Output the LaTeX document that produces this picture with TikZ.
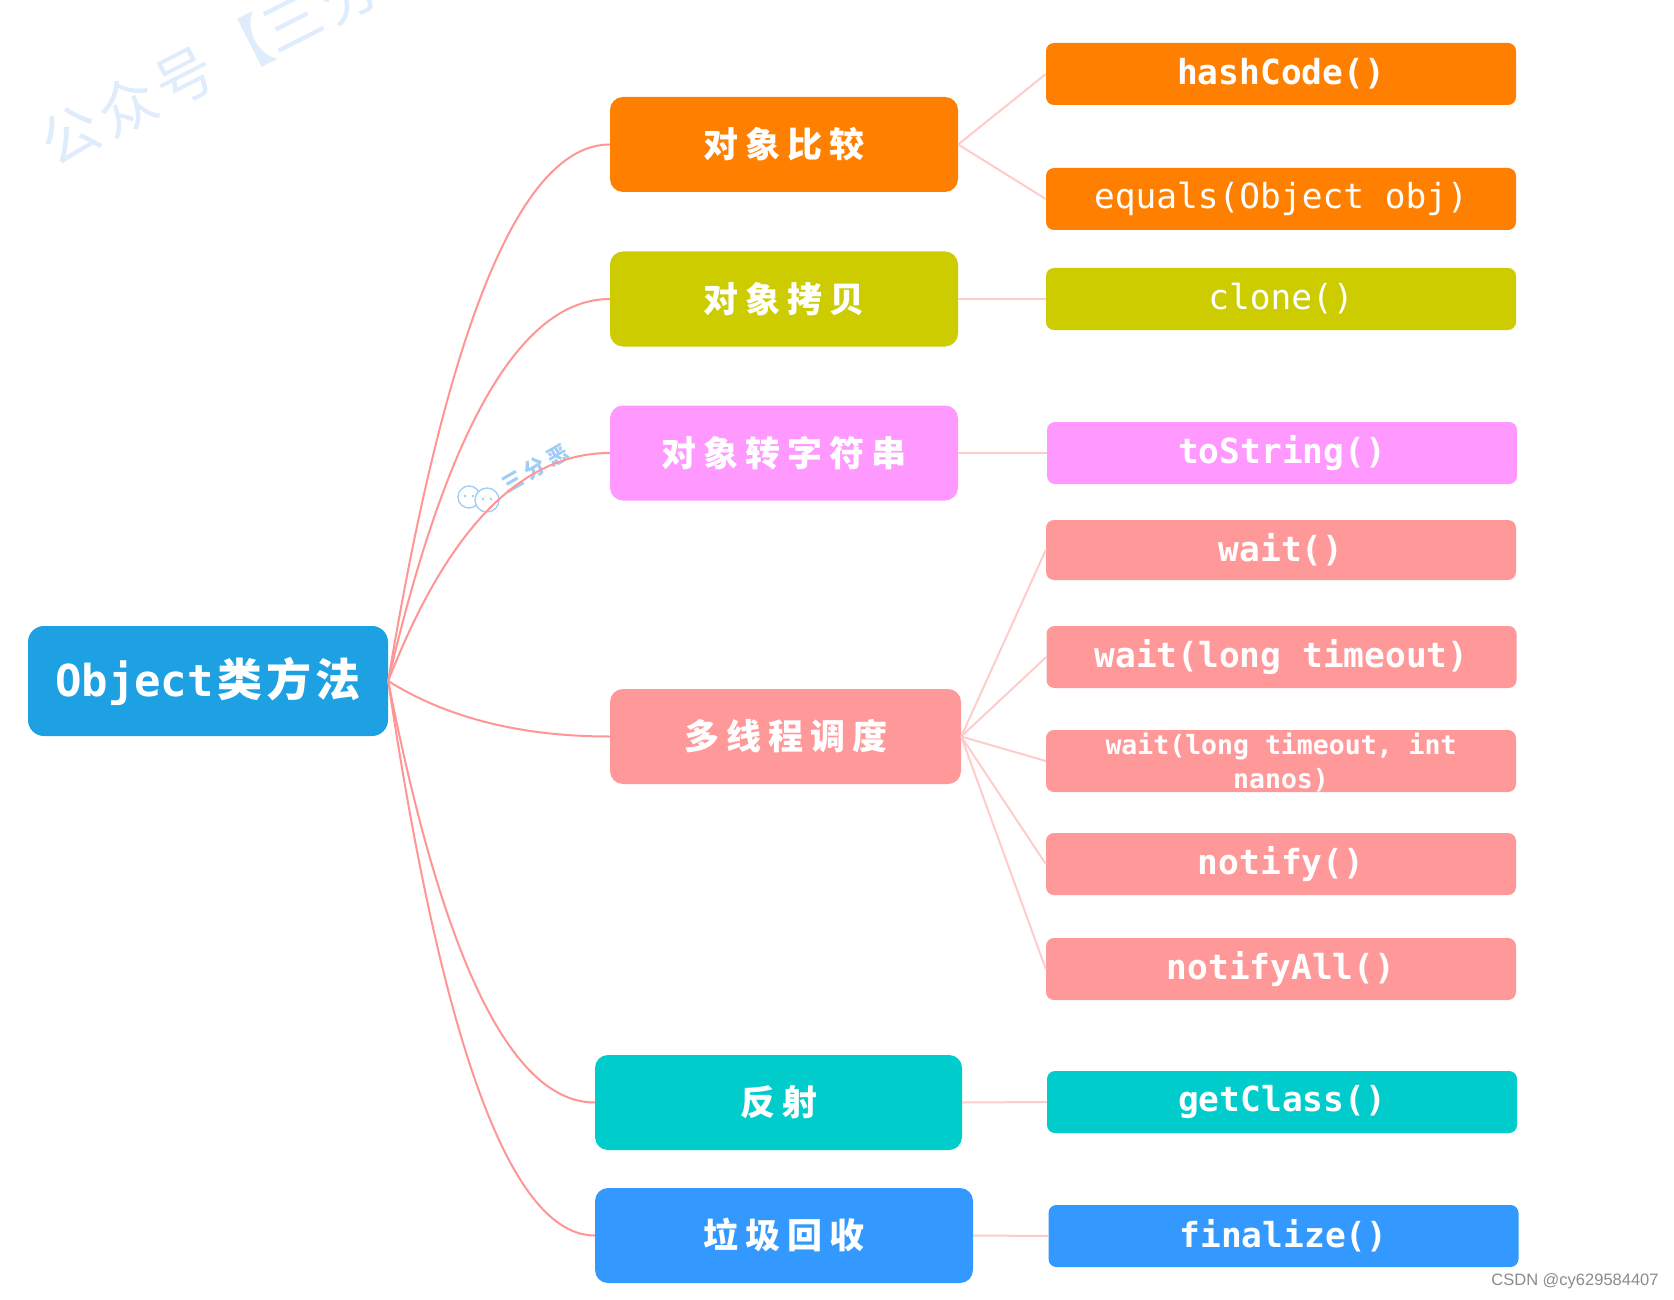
\documentclass[tikz,border=0pt]{standalone}
\usepackage{fontspec}
\usetikzlibrary{calc}
\newfontfamily\cjk{Noto Sans CJK SC}
\newfontfamily\mono{DejaVu Sans Mono}
\newfontfamily\csdnfont{Liberation Sans}
\definecolor{rootc}{RGB}{29,161,226}
\definecolor{orangec}{RGB}{255,128,0}
\definecolor{olivec}{RGB}{204,204,0}
\definecolor{pinkc}{RGB}{255,153,255}
\definecolor{salmonc}{RGB}{255,153,153}
\definecolor{tealc}{RGB}{0,204,204}
\definecolor{bluec}{RGB}{51,153,255}
\definecolor{linkone}{RGB}{255,150,150}
\definecolor{linktwo}{RGB}{255,204,204}
\definecolor{wmark}{RGB}{222,236,252}
\definecolor{wmarktwo}{RGB}{160,205,245}
\definecolor{csdngray}{RGB}{140,140,140}
\newcommand\gapA{\hspace{7pt}}
\newcommand\gapB{\hspace{4pt}}
\newcommand\gapC{\hspace{6pt}}
\tikzset{
  rootbox/.style={rounded corners=16pt, inner sep=0pt, text=white, fill=rootc,
    minimum width=360pt, minimum height=110pt},
  lonebox/.style={rounded corners=13pt, inner sep=0pt, text=white,
    minimum height=95pt, font=\cjk\bfseries\fontsize{35}{40}\selectfont},
  ltwobox/.style={rounded corners=8pt, inner sep=0pt, text=white,
    minimum width=470pt, minimum height=62pt, font=\mono\bfseries\fontsize{34.5}{40}\selectfont},
  thin/.style={font=\mono\fontsize{34.5}{40}\selectfont},
  lone/.style={draw=linkone, line width=2pt},
  ltwo/.style={draw=linktwo, line width=2pt},
}
\begin{document}
\begin{tikzpicture}[x=1pt,y=-1pt]
\useasboundingbox (0,0) rectangle (1674,1300);
\clip (0,0) rectangle (1674,1300);
\fill[white] (0,0) rectangle (1674,1300);

% watermarks
\node[text=wmark, rotate=27, anchor=west, inner sep=0pt,
  font=\cjk\fontsize{58}{58}\selectfont] (wm) at (44,148)
  {公\gapC 众\gapC 号\gapC 【三\gapC 分\gapC 恶】};
\node[text=wmarktwo, rotate=30, anchor=west, inner sep=0pt,
  font=\cjk\bfseries\fontsize{21}{21}\selectfont] (wm2) at (503,487)
  {三\hspace{5pt}分\hspace{5pt}恶};
\draw[wmarktwo, line width=1.3pt] (469,497) circle (11);
\draw[wmarktwo, line width=1.3pt, fill=white] (487,500) circle (12);
\fill[wmarktwo] (465,496) circle (1.3) (473,496) circle (1.3)
  (483,499) circle (1.3) (491,499) circle (1.3);

% root
\node[rootbox] (root) at (208,681)
  {\mono\bfseries\fontsize{44}{50}\selectfont Object\hspace{4pt}\cjk\fontsize{45}{50}\selectfont 类\gapB 方\gapB 法};

% level 1
\node[lonebox, fill=orangec, minimum width=348pt] (A) at (784,144.5) {对\gapA 象\gapA 比\gapA 较};
\node[lonebox, fill=olivec, minimum width=348pt] (B) at (784,299) {对\gapA 象\gapA 拷\gapA 贝};
\node[lonebox, fill=pinkc, minimum width=348pt] (C) at (784,453) {对\gapA 象\gapA 转\gapA 字\gapA 符\gapA 串};
\node[lonebox, fill=salmonc, minimum width=351pt] (D) at (785.5,736.5) {多\gapA 线\gapA 程\gapA 调\gapA 度};
\node[lonebox, fill=tealc, minimum width=367pt] (E) at (778.5,1102.5) {反\gapA 射};
\node[lonebox, fill=bluec, minimum width=378pt] (F) at (784,1235.5) {垃\gapA 圾\gapA 回\gapA 收};

% level 2
\node[ltwobox, fill=orangec] (h1) at (1281,74) {hashCode()};
\node[ltwobox, fill=orangec, thin] (h2) at (1281,199) {equals(Object obj)};
\node[ltwobox, fill=olivec, thin] (c1) at (1281,299) {clone()};
\node[ltwobox, fill=pinkc] (t1) at (1282,453) {toString()};
\node[ltwobox, fill=salmonc, minimum height=60pt] (w1) at (1281,550) {wait()};
\node[ltwobox, fill=salmonc] (w2) at (1281.5,657) {wait(long timeout)};
\node[ltwobox, fill=salmonc] (w3) at (1281,761) {};
\node[text=white, inner sep=0pt, align=center,
  font=\mono\bfseries\fontsize{26.5}{34}\selectfont] (w3t) at (1281,762)
  {wait(long timeout, int\\nanos)};
\node[ltwobox, fill=salmonc] (n1) at (1281,864) {notify()};
\node[ltwobox, fill=salmonc] (n2) at (1281,969) {notifyAll()};
\node[ltwobox, fill=tealc] (g1) at (1282,1102) {getClass()};
\node[ltwobox, fill=bluec] (f1) at (1283.5,1236) {finalize()};

% level 1 connectors
\foreach \n in {A,B,C,D,E,F}{
  \coordinate (m\n) at ($(root.east)!0.4!(\n.west)$);
  \coordinate (q\n) at (m\n |- \n.west);
  \draw[lone] (root.east) .. controls ($(root.east)!0.6667!(q\n)$) and ($(\n.west)!0.6667!(q\n)$) .. (\n.west);
}

% level 2 connectors
\draw[ltwo] (A.east) -- (h1.west);
\draw[ltwo] (A.east) -- (h2.west);
\draw[ltwo] (B.east) -- (c1.west);
\draw[ltwo] (C.east) -- (t1.west);
\foreach \k in {w1,w2,w3,n1,n2}{
  \draw[ltwo] (D.east) -- (\k.west);
}
\draw[ltwo] (E.east) -- (g1.west);
\draw[ltwo] (F.east) -- (f1.west);

% csdn mark
\node[text=csdngray, inner sep=0pt, font=\csdnfont\fontsize{16.5}{18}\selectfont] (csdn) at (1575,1281) {CSDN @cy629584407};
\end{tikzpicture}
\end{document}
